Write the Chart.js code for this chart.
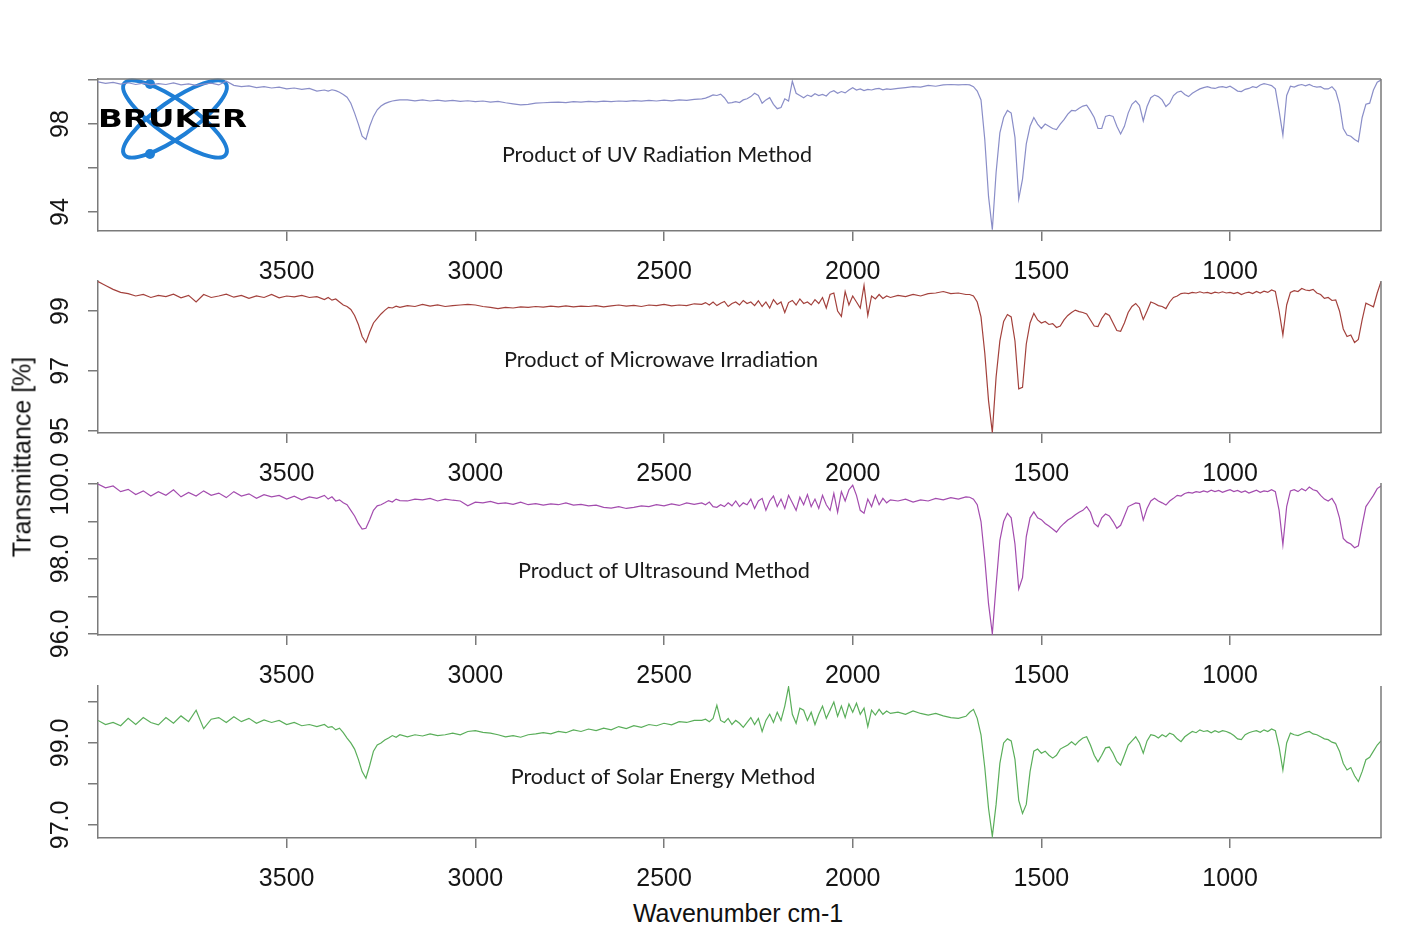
<!DOCTYPE html>
<html>
<head>
<meta charset="utf-8">
<script src="https://cdn.jsdelivr.net/npm/chart.js@4.4.0/dist/chart.umd.min.js"></script>
<style>
  body { margin: 0; background: #fff; width: 1403px; height: 940px; position: relative; overflow: hidden; }
  canvas { position: absolute; left: 0; }
  .axtitle { position: absolute; font: 25px "Liberation Sans", Arial, sans-serif; color: #111; white-space: nowrap; }
  #ytitle { left: 22px; top: 457px; transform: translate(-50%, -50%) rotate(-90deg); }
  #xtitle { left: 738px; top: 913px; transform: translate(-50%, -50%); }
</style>
</head>
<body>
<canvas id="c1"></canvas>
<canvas id="c2"></canvas>
<canvas id="c3"></canvas>
<canvas id="c4"></canvas>
<div class="axtitle" id="ytitle">Transmittance [%]</div>
<div class="axtitle" id="xtitle">Wavenumber cm-1</div>
<script>
// wavenumber grid (cm-1), shared by all four spectra
const wavenumbers = [
  4000,3980,3960,3940,3920,3900,3880,3860,3840,3820,3800,3780,3760,3740,3720,3700,3680,3660,3640,3620,3600,3580,3560,3540,3520,3500,3480,3460,3440,3420,
  3400,3390,3380,3370,3360,3350,3340,3330,3320,3310,3300,3290,3280,3270,3260,3250,3240,3230,3220,3210,3200,
  3180,3160,3140,3120,3100,3080,3060,3040,3020,3000,2980,2960,2940,2920,2900,2880,2860,2840,2820,2800,2780,2760,2740,2720,2700,2680,2660,2640,2620,2600,2580,2560,2540,2520,2500,2480,2460,2440,2420,
  2400,2390,2380,2370,2360,2350,2340,2330,2320,2310,2300,2290,2280,2270,2260,2250,2240,2230,2220,2210,2200,2190,2180,2170,2160,2150,2140,2130,2120,2110,
  2100,2090,2080,2070,2060,2050,2040,2030,2020,2010,2000,1990,1980,1970,1960,1950,1940,1930,1920,1910,1900,
  1880,1860,1840,1820,1800,1780,1760,1740,1720,1700,
  1690,1680,1670,1660,1650,1640,1630,1620,1610,1600,1590,1580,1570,1560,1550,1540,1530,1520,1510,1500,
  1490,1480,1470,1460,1450,1440,1430,1420,1410,1400,1390,1380,1370,1360,1350,1340,1330,1320,1310,1300,
  1290,1280,1270,1260,1250,1240,1230,1220,1210,1200,1190,1180,1170,1160,1150,1140,1130,1120,1110,1100,
  1090,1080,1070,1060,1050,1040,1030,1020,1010,1000,990,980,970,960,950,940,930,920,910,900,
  890,880,870,860,850,840,830,820,810,800,790,780,770,760,750,740,730,720,710,700,
  690,680,670,660,650,640,630,620,610,600
];

const uvTransmittance = [
  99.92,99.85,99.9,99.82,99.88,99.8,99.86,99.78,99.84,99.8, 99.87,99.78,99.83,99.76,99.82,99.86,99.78,99.95,99.76,99.7, 99.74,99.66,99.7,99.64,99.68,99.6,99.64,99.58,99.62,99.5,
  99.55,99.5,99.56,99.52,99.45,99.35,99.22,98.95,98.5,98.0,97.45,97.3,97.9,98.35,98.65,98.82,98.93,99.0,99.05,99.08,99.1,
  99.1,99.06,99.1,99.05,99.09,99.04,99.08,99.03,99.06,99.02, 99.05,99.0,99.03,98.97,98.92,98.87,98.9,98.95,98.97,98.99, 99.0,98.98,99.02,99.0,99.03,99.01,99.04,99.02,99.05,99.03, 99.07,99.04,99.08,99.05,99.09,99.06,99.1,99.08,99.12,
  99.15,99.18,99.25,99.33,99.3,99.36,99.2,98.95,98.98,99.02, 98.98,99.1,99.15,99.25,99.4,99.3,98.95,99.1,99.2,98.9, 98.7,98.75,99.15,99.05,99.95,99.4,99.3,99.2,99.32,99.25, 99.38,99.3,99.35,99.28,99.45,99.52,99.4,99.48,99.42,99.55, 99.65,99.55,99.6,99.52,99.58,99.55,99.6,99.62,99.56,99.6,99.58,
  99.62,99.66,99.7,99.68,99.76,99.72,99.78,99.8,99.78,99.8,
  99.78,99.7,99.5,99.1,97.3,94.7,93.2,95.8,97.6,98.3, 98.62,98.5,97.4,94.6,95.5,97.1,97.9,98.3,98.0,97.8,
  98.0,97.9,97.8,97.75,98.0,98.2,98.45,98.62,98.6,98.72, 98.82,98.86,98.6,98.3,97.8,97.8,98.35,98.4,98.35,97.9,
  97.55,97.9,98.5,98.9,99.06,98.85,98.14,98.8,99.2,99.32, 99.25,99.1,98.8,98.95,99.3,99.45,99.5,99.35,99.25,99.4,
  99.5,99.6,99.66,99.7,99.65,99.62,99.68,99.7,99.66,99.72, 99.62,99.5,99.48,99.58,99.62,99.7,99.66,99.78,99.84,99.8,
  99.75,99.6,98.6,97.5,99.3,99.72,99.68,99.76,99.8,99.74, 99.8,99.72,99.68,99.7,99.6,99.6,99.7,99.5,98.9,97.8,
  97.5,97.45,97.3,97.2,98.3,98.9,98.95,99.55,99.9,100.0
];

const microwaveTransmittance = [
  99.98,99.85,99.72,99.62,99.58,99.5,99.55,99.45,99.52,99.48, 99.56,99.44,99.52,99.3,99.55,99.45,99.5,99.56,99.46,99.52, 99.42,99.5,99.45,99.55,99.44,99.5,99.47,99.52,99.45,99.48,
  99.38,99.45,99.36,99.4,99.3,99.2,99.15,99.05,98.85,98.55,98.15,97.95,98.3,98.6,98.75,98.9,99.02,99.12,99.1,99.16,99.12,
  99.18,99.15,99.22,99.16,99.2,99.15,99.18,99.2,99.22,99.2, 99.15,99.12,99.08,99.12,99.1,99.14,99.12,99.15,99.13,99.16, 99.14,99.17,99.14,99.16,99.15,99.18,99.14,99.17,99.2,99.16, 99.19,99.15,99.2,99.18,99.22,99.17,99.2,99.18,99.24,
  99.22,99.28,99.2,99.3,99.18,99.26,99.32,99.15,99.25,99.3, 99.2,99.35,99.25,99.3,99.18,99.34,99.15,99.3,99.1,99.38, 99.22,99.3,98.95,99.28,99.35,99.2,99.4,99.25,99.3,99.2, 99.38,99.25,99.45,99.1,99.55,99.6,99.0,98.82,99.65,99.2, 99.5,99.3,99.1,99.85,98.85,99.5,99.4,99.55,99.42,99.5,99.45,
  99.52,99.48,99.55,99.5,99.58,99.6,99.65,99.58,99.6,99.55,
  99.55,99.5,99.3,98.8,97.6,96.0,94.95,96.8,98.0,98.65, 98.88,98.8,98.0,96.4,96.45,97.9,98.6,98.92,98.7,98.6,
  98.65,98.55,98.58,98.45,98.5,98.7,98.85,98.95,99.03,98.98, 98.95,98.9,98.7,98.5,98.48,98.75,98.92,98.85,98.6,98.35,
  98.32,98.6,98.95,99.15,99.25,99.1,98.72,99.0,99.3,99.25, 99.18,99.15,99.08,99.3,99.45,99.5,99.58,99.6,99.58,99.62,
  99.6,99.64,99.6,99.62,99.58,99.63,99.6,99.64,99.6,99.62, 99.58,99.62,99.55,99.6,99.63,99.58,99.65,99.6,99.66,99.62,
  99.7,99.65,99.0,98.2,99.2,99.62,99.68,99.65,99.75,99.7, 99.68,99.72,99.6,99.55,99.42,99.45,99.35,99.37,99.0,98.4,
  98.15,98.2,97.95,98.05,98.7,99.26,99.2,99.14,99.6,99.98
];

const ultrasoundTransmittance = [
  100.0,99.9,99.95,99.8,99.86,99.72,99.82,99.68,99.8,99.7, 99.85,99.66,99.78,99.68,99.82,99.7,99.76,99.64,99.8,99.68, 99.74,99.62,99.72,99.66,99.7,99.6,99.68,99.58,99.66,99.62,
  99.7,99.6,99.66,99.55,99.58,99.5,99.45,99.3,99.15,98.95,98.8,98.82,99.05,99.3,99.42,99.45,99.5,99.56,99.52,99.6,99.56,
  99.55,99.6,99.58,99.62,99.55,99.6,99.57,99.55,99.42,99.52, 99.5,99.54,99.48,99.5,99.46,99.52,99.45,99.48,99.44,99.47, 99.45,99.5,99.44,99.46,99.42,99.44,99.38,99.36,99.4,99.35, 99.38,99.42,99.4,99.45,99.42,99.47,99.43,99.5,99.46,
  99.5,99.45,99.52,99.4,99.38,99.45,99.4,99.5,99.42,99.55, 99.4,99.5,99.45,99.6,99.35,99.55,99.62,99.3,99.55,99.68, 99.4,99.6,99.35,99.7,99.5,99.3,99.65,99.45,99.72,99.4, 99.6,99.35,99.7,99.45,99.3,99.75,99.25,99.8,99.55,99.85, 99.97,99.7,99.3,99.22,99.6,99.4,99.7,99.45,99.62,99.5,99.58,
  99.55,99.6,99.52,99.58,99.55,99.62,99.58,99.64,99.6,99.66,
  99.65,99.6,99.45,99.0,98.0,96.8,96.0,97.3,98.5,99.0, 99.22,99.1,98.4,97.2,97.5,98.6,99.1,99.26,99.1,99.05,
  98.95,98.88,98.8,98.72,98.85,98.95,99.04,99.1,99.18,99.25, 99.3,99.4,99.25,98.95,98.86,99.1,99.2,99.15,99.0,98.82,
  98.9,99.15,99.4,99.45,99.5,99.48,99.04,99.35,99.55,99.62, 99.55,99.5,99.44,99.55,99.62,99.7,99.68,99.75,99.78,99.76,
  99.8,99.78,99.82,99.79,99.84,99.8,99.83,99.78,99.82,99.85, 99.8,99.83,99.78,99.82,99.76,99.8,99.84,99.78,99.82,99.8,
  99.85,99.8,99.3,98.38,99.4,99.82,99.85,99.8,99.88,99.82, 99.92,99.85,99.82,99.7,99.6,99.55,99.62,99.45,99.1,98.55,
  98.45,98.4,98.3,98.35,98.9,99.4,99.55,99.7,99.88,99.95
];

const solarTransmittance = [
  99.55,99.45,99.5,99.42,99.6,99.45,99.62,99.5,99.44,99.62, 99.48,99.66,99.52,99.8,99.35,99.58,99.62,99.5,99.64,99.52, 99.6,99.48,99.56,99.5,99.55,99.45,99.5,99.42,99.45,99.4,
  99.45,99.38,99.4,99.32,99.36,99.25,99.12,99.0,98.85,98.6,98.3,98.14,98.45,98.8,98.95,99.0,99.07,99.12,99.18,99.14,99.2,
  99.15,99.2,99.17,99.22,99.18,99.2,99.24,99.2,99.28,99.3, 99.26,99.24,99.2,99.15,99.18,99.14,99.2,99.22,99.25,99.22, 99.28,99.25,99.32,99.28,99.34,99.3,99.36,99.32,99.4,99.35, 99.42,99.38,99.45,99.42,99.48,99.44,99.52,99.5,99.55,
  99.55,99.58,99.52,99.6,99.92,99.55,99.5,99.6,99.45,99.55, 99.48,99.38,99.5,99.62,99.45,99.6,99.28,99.55,99.7,99.5, 99.75,99.55,99.9,100.37,99.7,99.48,99.85,99.8,99.55,99.75, 99.45,99.7,99.9,99.6,99.8,100.0,99.65,99.9,99.62,99.95, 99.75,99.97,99.7,99.85,99.4,99.8,99.68,99.82,99.7,99.78,99.72,
  99.75,99.7,99.78,99.72,99.68,99.72,99.66,99.62,99.6,99.65,
  99.75,99.82,99.6,99.2,98.4,97.4,96.72,97.5,98.5,99.0, 99.1,99.05,98.6,97.6,97.28,97.5,98.3,98.8,98.85,98.75,
  98.8,98.7,98.63,98.7,98.85,98.9,98.95,99.03,98.95,99.05, 99.12,99.15,98.95,98.7,98.54,98.7,98.88,98.9,98.75,98.55,
  98.46,98.7,98.95,99.05,99.15,99.0,98.75,99.05,99.2,99.18, 99.12,99.2,99.15,99.24,99.2,99.1,99.03,99.15,99.22,99.28,
  99.25,99.32,99.28,99.3,99.25,99.3,99.26,99.3,99.28,99.24, 99.18,99.1,99.08,99.2,99.25,99.28,99.3,99.26,99.32,99.28,
  99.34,99.3,98.9,98.34,99.0,99.24,99.2,99.18,99.22,99.26, 99.28,99.22,99.2,99.15,99.1,99.08,99.02,98.99,98.8,98.5,
  98.34,98.4,98.2,98.06,98.3,98.59,98.65,98.8,98.95,99.05
];

const xTickValues = [3500, 3000, 2500, 2000, 1500, 1000];
const uvTicks = [94, 96, 98, 100];
const uvTickLabels = ['94', '', '98', ''];
const microwaveTicks = [95, 97, 99];
const microwaveTickLabels = ['95', '97', '99'];
const ultrasoundTicks = [96, 97, 98, 99, 100];
const ultrasoundTickLabels = ['96.0', '', '98.0', '', '100.0'];
const solarTicks = [97, 98, 99, 100];
const solarTickLabels = ['97.0', '', '99.0', ''];

const axisColor = '#7a7a7a';
const textColor = '#151515';
const axisFont = '"Liberation Sans", Arial, sans-serif';
const PAD_TOP = 40;

const panels = [
  { id: 'c1', top: 79, values: uvTransmittance, color: '#8a8ec8', min: 93.14, max: 100.05,
    ticks: uvTicks, labels: uvTickLabels, name: 'Product of UV Radiation Method', capX: 657, capY: 155, capW: 310, box: true, logo: true },
  { id: 'c2', top: 281, values: microwaveTransmittance, color: '#a3413c', min: 94.93, max: 100.0,
    ticks: microwaveTicks, labels: microwaveTickLabels, name: 'Product of Microwave Irradiation', capX: 661, capY: 360, capW: 314 },
  { id: 'c3', top: 483, values: ultrasoundTransmittance, color: '#a34cae', min: 95.97, max: 100.03,
    ticks: ultrasoundTicks, labels: ultrasoundTickLabels, name: 'Product of Ultrasound Method', capX: 664, capY: 571, capW: 292 },
  { id: 'c4', top: 686, values: solarTransmittance, color: '#5aae5a', min: 96.68, max: 100.39,
    ticks: solarTicks, labels: solarTickLabels, name: 'Product of Solar Energy Method', capX: 663, capY: 777, capW: 305 }
];

function drawLogo(ctx, offset) {
  const cx = 175, cy = 119 - offset;
  ctx.save();
  ctx.strokeStyle = '#1f7fd6';
  ctx.fillStyle = '#1f7fd6';
  ctx.lineWidth = 4;
  [35, -35].forEach(a => {
    ctx.beginPath();
    ctx.ellipse(cx, cy, 62, 18, a * Math.PI / 180, 0, Math.PI * 2);
    ctx.stroke();
  });
  [[150, 84], [150, 154]].forEach(([x, y]) => {
    ctx.beginPath();
    ctx.arc(x, y - offset, 5, 0, Math.PI * 2);
    ctx.fill();
  });
  ctx.font = 'bold 25px "DejaVu Sans", sans-serif';
  const w = ctx.measureText('BRUKER').width;
  ctx.translate(98, cy);
  ctx.scale(149 / w, 1);
  ctx.fillStyle = '#000';
  ctx.textBaseline = 'middle';
  ctx.textAlign = 'left';
  ctx.fillText('BRUKER', 0, 1);
  ctx.restore();
}

function decor(p) {
  const offset = p.top - PAD_TOP;
  return {
    id: 'decor',
    beforeDatasetsDraw(chart) {
      if (p.logo) drawLogo(chart.ctx, offset);
    },
    afterDraw(chart) {
      const { ctx, chartArea: a, scales } = chart;
      ctx.save();
      ctx.strokeStyle = axisColor;
      ctx.lineWidth = 1.5;
      ctx.beginPath();
      ctx.moveTo(a.right, a.top);
      ctx.lineTo(a.right, a.bottom);
      if (p.box) {
        ctx.moveTo(a.left, a.top);
        ctx.lineTo(a.right, a.top);
      }
      ctx.stroke();

      // rotated y tick labels, R style
      ctx.fillStyle = textColor;
      ctx.font = '25px ' + axisFont;
      ctx.textAlign = 'center';
      ctx.textBaseline = 'middle';
      p.ticks.forEach((v, k) => {
        const t = p.labels[k];
        if (!t) return;
        const y = scales.y.getPixelForValue(v);
        ctx.save();
        ctx.translate(61, y);
        ctx.rotate(-Math.PI / 2);
        ctx.fillText(t, 0, 0);
        ctx.restore();
      });

      // caption
      ctx.font = '20px Lato, "Open Sans", sans-serif';
      const size = 20 * p.capW / ctx.measureText(p.name).width;
      ctx.font = size.toFixed(1) + 'px Lato, "Open Sans", sans-serif';
      ctx.fillStyle = '#1a1a1a';
      ctx.fillText(p.name, p.capX, p.capY - offset);
      ctx.restore();
    }
  };
}

panels.forEach(p => {
  const canvas = document.getElementById(p.id);
  canvas.width = 1403;
  canvas.height = PAD_TOP + 152 + 50;
  canvas.style.top = (p.top - PAD_TOP) + 'px';
  new Chart(canvas, {
    type: 'line',
    data: {
      datasets: [{
        data: wavenumbers.map((w, k) => ({ x: w, y: p.values[k] })),
        borderColor: p.color,
        borderWidth: 1.2,
        pointRadius: 0,
        tension: 0,
        fill: false
      }]
    },
    options: {
      responsive: false,
      animation: false,
      events: [],
      layout: { padding: { top: PAD_TOP, right: 22, left: 0, bottom: 0 } },
      plugins: { legend: { display: false }, tooltip: { enabled: false } },
      scales: {
        x: {
          type: 'linear',
          reverse: true,
          min: 600,
          max: 4000,
          afterBuildTicks: s => { s.ticks = xTickValues.map(v => ({ value: v })); },
          afterFit: s => { s.height = 50; },
          grid: { drawOnChartArea: false, drawTicks: true, tickLength: 10, color: axisColor, tickColor: axisColor, lineWidth: 1.5 },
          border: { display: true, color: axisColor, width: 1.5 },
          ticks: { font: { family: axisFont, size: 25 }, color: textColor, padding: 16, maxRotation: 0, autoSkip: false, callback: v => String(v) }
        },
        y: {
          min: p.min,
          max: p.max,
          afterBuildTicks: s => { s.ticks = p.ticks.map(v => ({ value: v })); },
          afterFit: s => { s.width = 98; },
          grid: { drawOnChartArea: false, drawTicks: true, tickLength: 10, color: axisColor, tickColor: axisColor, lineWidth: 1.5 },
          border: { display: true, color: axisColor, width: 1.5 },
          ticks: { display: false }
        }
      }
    },
    plugins: [decor(p)]
  });
});
</script>
</body>
</html>
